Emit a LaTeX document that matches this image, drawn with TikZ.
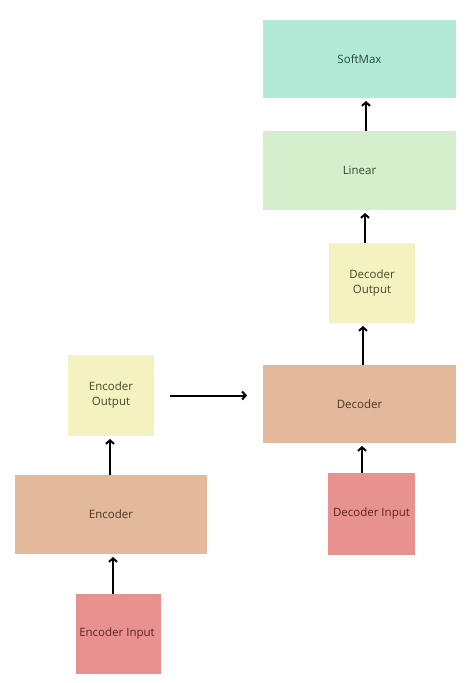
\documentclass[tikz,border=0pt]{standalone}
\usepackage{fontspec}
\setmainfont{Open Sans}
\usetikzlibrary{arrows.meta}
\definecolor{smaxfill}{HTML}{B3EAD7}
\definecolor{linfill}{HTML}{D5EECB}
\definecolor{outfill}{HTML}{F4F2C0}
\definecolor{codefill}{HTML}{E2B99B}
\definecolor{infill}{HTML}{E89290}
\definecolor{smaxtext}{HTML}{234A3C}
\definecolor{lintext}{HTML}{34472C}
\definecolor{outtext}{HTML}{4A4626}
\definecolor{codetext}{HTML}{4E3422}
\definecolor{intext}{HTML}{5C2224}
\tikzset{
    block/.style={inner sep=0pt,outer sep=0pt,align=center,font=\fontsize{11.5}{15}\selectfont},
    flow/.style={line width=2pt,-{Straight Barb[length=3.5pt,width=8pt,line width=2pt]}}
}
\begin{document}
\begin{tikzpicture}[x=1pt,y=-1pt]
                \useasboundingbox[fill=white] (0,0) rectangle (474,683);
                \foreach \n/\x/\y/\w/\h/\c/\t in {
                    smax/359.5/59/193/78/smax/SoftMax,
                    lin/359.5/170.5/193/79/lin/Linear,
                    decout/372/283/86/80/out/{Decoder\\Output},
                    dec/359.5/404/193/78/code/Decoder,
                    decin/371.5/514/87/82/in/Decoder Input,
                    encout/111/395.5/86/81/out/{Encoder\\Output},
                    enc/111/514.5/192/79/code/Encoder,
                    encin/118.5/634/85/80/in/Encoder Input
                }
                \node at(\x,\y)[block,fill=\c fill,text=\c text,minimum width=\w pt,minimum height=\h pt](\n){\t};
                \foreach \a/\b/\dx in {encin/enc/-5.5, enc/encout/-1, decin/dec/-9.5, dec/decout/3.5, decout/lin/-7, lin/smax/6.5}
                \draw[flow,shorten >=3pt] ([xshift=\dx pt]\a.north) -- ([xshift=\dx pt]\a.north |- \b.south);
                \draw[flow,shorten <=16pt,shorten >=16pt] (encout.east) -- (encout.east -| dec.west);
            \end{tikzpicture}
\end{document}
